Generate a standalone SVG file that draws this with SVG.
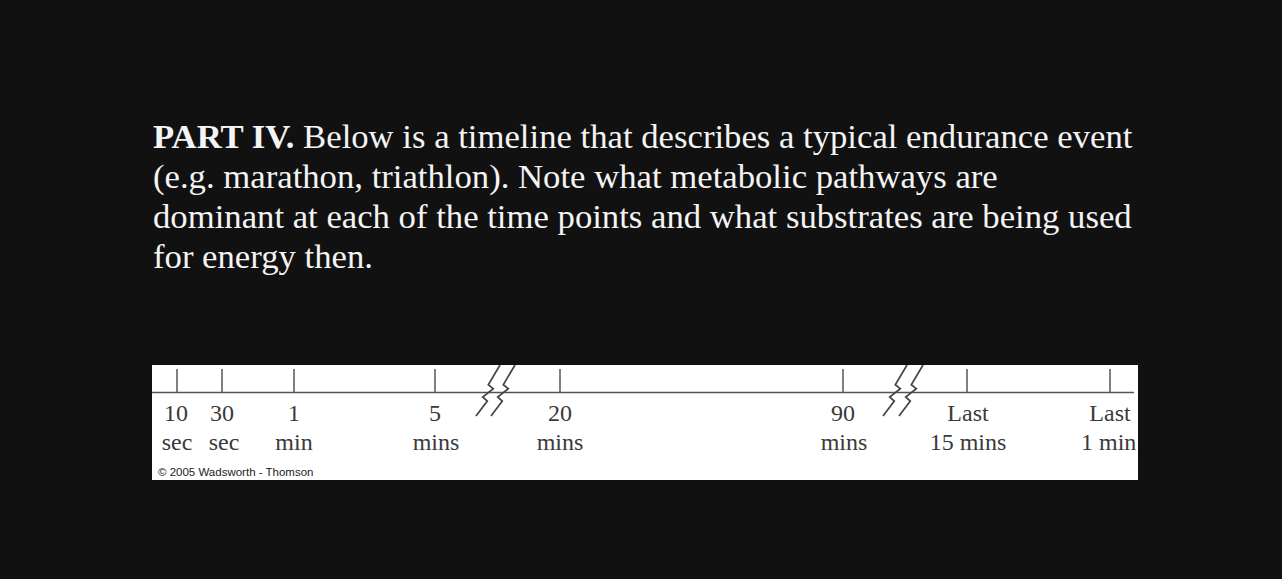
<svg xmlns="http://www.w3.org/2000/svg" width="1282" height="579" viewBox="0 0 1282 579">
<style>
.hd{font-family:"Liberation Serif","Times New Roman",serif;font-size:34.7px;fill:#f4f4f4}
.lb{font-family:"Liberation Serif","Times New Roman",serif;font-size:24px;fill:#3a3a3a;text-anchor:middle}
.tk{stroke:#555;stroke-width:1.5;fill:none}
.zz{stroke:#444;stroke-width:1.7;fill:none;stroke-linejoin:miter}
.cp{font-family:"Liberation Sans",Arial,sans-serif;font-size:11.5px;fill:#222}
</style>
<defs>
<path id="zig" d="M0,0 L-11.7,19.7 L-6.7,23.7 L-17.3,32 L-12.7,36 L-24,51"/>
<clipPath id="pc"><rect x="152" y="365" width="986" height="115"/></clipPath>
</defs>
<rect width="1282" height="579" fill="#111111"/>
<g id="heading">
<text class="hd" x="153" y="148"><tspan font-weight="bold">PART IV.</tspan> Below is a timeline that describes a typical endurance event</text>
<text class="hd" x="153" y="188">(e.g. marathon, triathlon). Note what metabolic pathways are</text>
<text class="hd" x="153" y="228">dominant at each of the time points and what substrates are being used</text>
<text class="hd" x="153" y="268">for energy then.</text>
</g>
<rect id="panel" x="152" y="365" width="986" height="115" fill="#ffffff"/>
<g clip-path="url(#pc)">
<g id="connectors">
<line class="tk" x1="152" y1="392.5" x2="1134" y2="392.5"/>
<use href="#zig" class="zz" transform="translate(500,365)"/>
<use href="#zig" class="zz" transform="translate(515,365)"/>
<use href="#zig" class="zz" transform="translate(907,365)"/>
<use href="#zig" class="zz" transform="translate(923,365)"/>
</g>
<g id="t10s"><line class="tk" x1="177" y1="369" x2="177" y2="392"/><text class="lb" x="176" y="421">10</text><text class="lb" x="177" y="450">sec</text></g>
<g id="t30s"><line class="tk" x1="222" y1="369" x2="222" y2="392"/><text class="lb" x="222" y="421">30</text><text class="lb" x="224" y="450">sec</text></g>
<g id="t1m"><line class="tk" x1="294" y1="369" x2="294" y2="392"/><text class="lb" x="294" y="421">1</text><text class="lb" x="294" y="450">min</text></g>
<g id="t5m"><line class="tk" x1="435" y1="369" x2="435" y2="392"/><text class="lb" x="435" y="421">5</text><text class="lb" x="436" y="450">mins</text></g>
<g id="t20m"><line class="tk" x1="560" y1="369" x2="560" y2="392"/><text class="lb" x="560" y="421">20</text><text class="lb" x="560" y="450">mins</text></g>
<g id="t90m"><line class="tk" x1="843" y1="369" x2="843" y2="392"/><text class="lb" x="843" y="421">90</text><text class="lb" x="844" y="450">mins</text></g>
<g id="tlast15"><line class="tk" x1="967" y1="369" x2="967" y2="392"/><text class="lb" x="968" y="421">Last</text><text class="lb" x="968" y="450">15 mins</text></g>
<g id="tlast1"><line class="tk" x1="1110" y1="369" x2="1110" y2="392"/><text class="lb" x="1110" y="421">Last</text><text class="lb" x="1081" y="450" style="text-anchor:start">1 min</text></g>
<g id="copyright"><text class="cp" x="158" y="476">© 2005 Wadsworth - Thomson</text></g>
</g>
</svg>
